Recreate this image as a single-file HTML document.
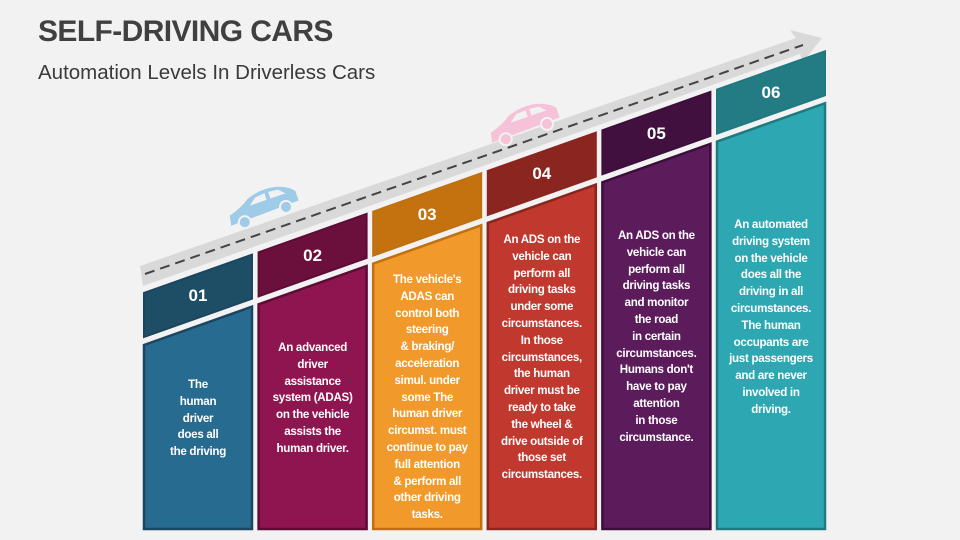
<!DOCTYPE html>
<html><head><meta charset="utf-8"><style>
body{margin:0;width:960px;height:540px;background:#f2f2f2;overflow:hidden;position:relative;font-family:"Liberation Sans",sans-serif}
.t{position:absolute;color:#fff;font-weight:bold;font-size:11.6px;line-height:16.8px;text-align:center;width:110px;letter-spacing:-0.3px;white-space:nowrap}
.n{position:absolute;color:#fff;font-weight:bold;font-size:17px;width:110px;text-align:center}
</style></head><body>
<div style="position:absolute;left:38px;top:15px;font-size:30px;font-weight:bold;color:#404040;letter-spacing:-0.6px">SELF-DRIVING CARS</div>
<div style="position:absolute;left:38px;top:61px;font-size:20.5px;color:#3a3a3a">Automation Levels In Driverless Cars</div>
<svg width="960" height="540" style="position:absolute;left:0;top:0">
<polygon points="140,266 796,38 790,30 822,38 803,62 800,54 143,286" fill="#d9d9d9"/>
<line x1="145" y1="274" x2="803" y2="45" stroke="#444" stroke-width="2" stroke-dasharray="10,6"/>
<g id="cols"></g>
<g transform="translate(224,205) rotate(-19)" fill="#9dcbe8">
<path d="M0,22 L2,12 Q16,8 24,2 Q40,-4 56,0 Q68,4 72,10 L72,20 Z"/><circle cx="14" cy="23" r="6" fill="#9dcbe8" stroke="#f2f2f2" stroke-width="2"/><circle cx="58" cy="22" r="6" fill="#9dcbe8" stroke="#f2f2f2" stroke-width="2"/>
<path d="M24,9 L32,3 L42,2 L42,9 Z M46,2 L56,3 L62,9 L46,9Z" fill="#f2f2f2"/></g>
<g transform="translate(485,122) rotate(-19)" fill="#f5c2d8">
<path d="M0,22 L2,12 Q16,8 24,2 Q40,-4 56,0 Q68,4 72,10 L72,20 Z"/><circle cx="14" cy="23" r="6" fill="#f5c2d8" stroke="#f2f2f2" stroke-width="2"/><circle cx="58" cy="22" r="6" fill="#f5c2d8" stroke="#f2f2f2" stroke-width="2"/>
<path d="M24,9 L32,3 L42,2 L42,9 Z M46,2 L56,3 L62,9 L46,9Z" fill="#f2f2f2"/></g>
</svg>
<div id="txt"></div>
<script>
const labels=["01","02","03","04","05","06"];
const heads=["#1e4d66","#6b0f3d","#c4720f","#8b2520","#41103f","#237c84"];
const bodies=["#286b91","#8f1550","#f19a2b","#c0382e","#5c1c5c","#2da8b2"];
const borders=["#1b4560","#5e0c35","#c0700f","#8a241e","#3c0f3b","#207880"];
const texts=[
["The","human","driver","does all","the driving"],
["An advanced","driver","assistance","system (ADAS)","on the vehicle","assists the","human driver."],
["The vehicle's","ADAS can","control both","steering","& braking/","acceleration","simul. under","some The","human driver","circumst.  must","continue to pay","full attention","& perform all","other driving","tasks."],
["An ADS on the","vehicle can","perform all","driving tasks","under some","circumstances.","In those","circumstances,","the human","driver must be","ready to take","the wheel &","drive outside of","those set","circumstances."],
["An ADS on the","vehicle can","perform all","driving tasks","and monitor","the road","in certain","circumstances.","Humans don't","have to pay","attention","in those","circumstance."],
["An automated","driving system","on the vehicle","does all the","driving in all","circumstances.","The human","occupants are","just passengers","and are never","involved in","driving."]];
const textTop=[377,340,272,232,228,217];
const g=document.getElementById('cols'),tx=document.getElementById('txt');
const W=108,step=114.6,x0=144,y0=293,sl=0.355;
const yt=x=>y0-sl*(x-x0);
const ns="http://www.w3.org/2000/svg";
labels.forEach((lb,i)=>{
 const l=x0+i*step,r=l+W;
 const h=document.createElementNS(ns,'polygon');
 
 
 h.setAttribute('points',`${l},${yt(l)} ${r},${yt(r)} ${r},${yt(r)+44} ${l},${yt(l)+44}`);
 h.setAttribute('fill',heads[i]);h.setAttribute('stroke',borders[i]);h.setAttribute('stroke-width','2');
 g.appendChild(h);
 const b=document.createElementNS(ns,'polygon');
 
 
 b.setAttribute('points',`${l},${yt(l)+52} ${r},${yt(r)+52} ${r},529 ${l},529`);
 b.setAttribute('fill',bodies[i]);b.setAttribute('stroke',borders[i]);b.setAttribute('stroke-width','2.5');
 g.appendChild(b);
 const n=document.createElement('div');n.className='n';
 
 
 n.style.left=(l-1)+'px';n.style.top=(yt(l+55)+13)+'px';n.textContent=lb;tx.appendChild(n);
 const t=document.createElement('div');t.className='t';
 
 
 t.style.left=(l-1)+'px';t.style.top=textTop[i]+'px';t.innerHTML=texts[i].join('<br>');tx.appendChild(t);
});
</script>
</body></html>
